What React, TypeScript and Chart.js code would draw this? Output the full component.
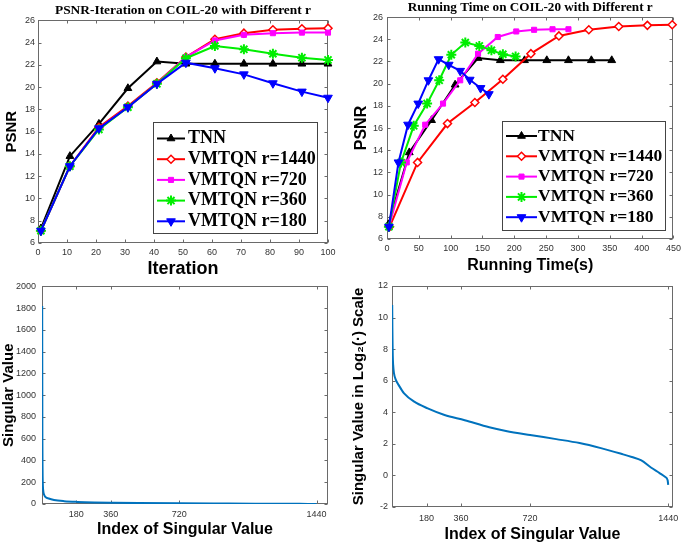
import React, { useEffect, useRef } from 'react';
import { Chart, registerables } from 'chart.js';
import { drawPoint } from 'chart.js/helpers';

Chart.register(...registerables);

// ---------- data ----------
const iterations = [1, 11, 21, 31, 41, 51, 61, 71, 81, 91, 100];
const psnrTNN = [7.3, 13.8, 16.7, 19.9, 22.3, 22.1, 22.1, 22.1, 22.1, 22.1, 22.1];
const psnrR1440 = [7.1, 12.9, 16.4, 18.3, 20.4, 22.7, 24.3, 24.85, 25.15, 25.25, 25.3];
const psnrR720 = [7.1, 12.9, 16.3, 18.2, 20.3, 22.7, 24.2, 24.7, 24.85, 24.9, 24.9];
const psnrR360 = [7.1, 12.9, 16.2, 18.2, 20.3, 22.6, 23.7, 23.4, 23.0, 22.65, 22.45];
const psnrR180 = [7.1, 12.9, 16.3, 18.2, 20.3, 22.2, 21.7, 21.15, 20.35, 19.6, 19.05];

const timeTNN = [2, 35, 70, 107, 143, 178, 216, 251, 285, 321, 353];
const timeR1440 = [4, 48, 95, 138, 182, 226, 270, 317, 364, 409, 448];
const timeR720 = [3, 31, 60, 88, 115, 143, 174, 203, 231, 260, 285];
const timeR360 = [3, 22, 42, 63, 82, 101, 123, 145, 164, 182, 202];
const timeR180 = [3, 18, 33, 49, 65, 81, 97, 115, 130, 147, 160];

const seriesLabels = ['TNN', 'VMTQN r=1440', 'VMTQN r=720', 'VMTQN r=360', 'VMTQN r=180'];

const svIndex = [1, 2, 3, 4, 6, 10, 20, 35, 63, 116, 186, 274, 379, 507, 720, 978, 1205, 1300, 1395, 1440];
const svValue = [1820, 620, 320, 200, 130, 90, 62, 50, 37, 26, 19, 14, 11, 8.5, 5.9, 4.1, 2.7, 2.0, 1.1, 0.7];

const logIndex = [1, 2, 3, 4, 6, 10, 20, 35, 63, 116, 186, 274, 379, 507, 594, 720, 856, 978, 1089, 1195, 1250, 1300, 1350, 1395, 1425, 1437, 1440];
const logValue = [10.8, 9.3, 8.3, 7.6, 7.0, 6.5, 6.05, 5.72, 5.2, 4.67, 4.25, 3.83, 3.5, 3.05, 2.82, 2.56, 2.3, 2.05, 1.73, 1.37, 1.17, 0.95, 0.5, 0.15, -0.1, -0.3, -0.6];

const indexTicks = [180, 360, 720, 1440];

// ---------- styles ----------
const SANS = '"Liberation Sans", Arial, Helvetica, sans-serif';
const SERIF = '"Liberation Serif", "Times New Roman", Times, serif';
const TICK_COLOR = '#333333';
const FRAME_COLOR = '#6a6a6a';

const seriesStyles = [
  { color: '#000000', style: 'triangle', rot: 0, fill: '#000000', radius: 4.5, bw: 1, order: 5 },
  { color: '#ff0000', style: 'rectRot', rot: 0, fill: '#ffffff', radius: 4, bw: 1.5, order: 4 },
  { color: '#ff00ff', style: 'rect', rot: 0, fill: '#ff00ff', radius: 3.6, bw: 1, order: 3 },
  { color: '#00ee00', style: 'star', rot: 0, fill: '#00ee00', radius: 5, bw: 2, order: 2 },
  { color: '#0000ff', style: 'triangle', rot: 180, fill: '#0000ff', radius: 5, bw: 1, order: 1 },
];

const psnrSeries = [psnrTNN, psnrR1440, psnrR720, psnrR360, psnrR180];
const timeSeries = [timeTNN, timeR1440, timeR720, timeR360, timeR180];

function makeDatasets(xsList: number[][], ysList: number[][]) {
  return seriesLabels.map((label, i) => {
    const s = seriesStyles[i];
    const xs = xsList[i];
    const ys = ysList[i];
    return {
      label,
      data: xs.map((x, j) => ({ x, y: ys[j] })),
      borderColor: s.color,
      backgroundColor: s.color,
      borderWidth: 2,
      pointStyle: s.style,
      pointRotation: s.rot,
      pointRadius: s.radius,
      pointBackgroundColor: s.fill,
      pointBorderColor: s.color,
      pointBorderWidth: s.bw,
      tension: 0,
      clip: false,
      order: s.order,
    };
  });
}

// ---------- plugins ----------
const framePlugin = {
  id: 'matFrame',
  beforeDatasetsDraw(chart: any) {
    const { ctx, chartArea: a, scales } = chart;
    const L = Math.round(a.left) + 0.5;
    const R = Math.round(a.right) - 0.5;
    const T = Math.round(a.top) + 0.5;
    const B = Math.round(a.bottom) - 0.5;
    ctx.save();
    ctx.strokeStyle = FRAME_COLOR;
    ctx.lineWidth = 1;
    ctx.strokeRect(L, T, R - L, B - T);
    const tl = 3;
    ctx.beginPath();
    for (const t of scales.x.ticks) {
      const px = Math.round(scales.x.getPixelForValue(t.value)) + 0.5;
      ctx.moveTo(px, B); ctx.lineTo(px, B - tl);
      ctx.moveTo(px, T); ctx.lineTo(px, T + tl);
    }
    for (const t of scales.y.ticks) {
      const py = Math.round(scales.y.getPixelForValue(t.value)) + 0.5;
      ctx.moveTo(L, py); ctx.lineTo(L + tl, py);
      ctx.moveTo(R, py); ctx.lineTo(R - tl, py);
    }
    ctx.stroke();
    ctx.restore();
  },
};

const legendPlugin = {
  id: 'boxLegend',
  afterDraw(chart: any, _args: any, opts: any) {
    if (!opts || !opts.show) return;
    const ctx = chart.ctx;
    ctx.save();
    ctx.fillStyle = '#ffffff';
    ctx.fillRect(opts.x, opts.y, opts.w, opts.h);
    ctx.strokeStyle = '#444444';
    ctx.lineWidth = 1;
    ctx.strokeRect(opts.x + 0.5, opts.y + 0.5, opts.w, opts.h);
    chart.data.datasets.forEach((ds: any, i: number) => {
      const cy = opts.row0 + i * opts.rowH;
      ctx.strokeStyle = ds.borderColor;
      ctx.lineWidth = 2;
      ctx.beginPath();
      ctx.moveTo(opts.lx0, cy);
      ctx.lineTo(opts.lx1, cy);
      ctx.stroke();
      ctx.fillStyle = ds.pointBackgroundColor;
      ctx.strokeStyle = ds.pointBorderColor;
      ctx.lineWidth = ds.pointBorderWidth;
      drawPoint(ctx, {
        pointStyle: ds.pointStyle,
        rotation: ds.pointRotation,
        radius: ds.pointRadius,
        borderWidth: ds.pointBorderWidth,
      } as any, (opts.lx0 + opts.lx1) / 2, cy);
      ctx.fillStyle = '#000000';
      ctx.font = `bold ${opts.fontSize}px ${SERIF}`;
      ctx.textBaseline = 'middle';
      ctx.textAlign = 'left';
      ctx.fillText(ds.label, opts.tx, cy);
    });
    ctx.restore();
  },
};

const plainNumber = (v: any) => String(v);

// ---------- scale helpers ----------
function xScale(o: any) {
  return {
    type: 'linear',
    min: o.min,
    max: o.max,
    ticks: {
      stepSize: o.step,
      font: { family: SANS, size: 9 },
      color: TICK_COLOR,
      padding: o.tickPad,
      maxRotation: 0,
      autoSkip: false,
      callback: plainNumber,
    },
    afterBuildTicks: o.ticksList
      ? (s: any) => { s.ticks = o.ticksList.map((v: number) => ({ value: v })); }
      : undefined,
    grid: { display: false, drawTicks: false },
    border: { display: false },
    title: {
      display: true,
      text: o.title,
      color: '#000000',
      font: { family: SANS, size: o.titleSize, weight: 'bold' },
      padding: { top: 0, bottom: o.titlePad },
    },
    afterFit: (s: any) => { s.height = o.height; },
  };
}

function yScale(o: any) {
  return {
    type: 'linear',
    min: o.min,
    max: o.max,
    ticks: {
      stepSize: o.step,
      font: { family: SANS, size: 9 },
      color: TICK_COLOR,
      padding: o.tickPad,
      autoSkip: false,
      callback: plainNumber,
    },
    grid: { display: false, drawTicks: false },
    border: { display: false },
    title: {
      display: true,
      text: o.title,
      color: '#000000',
      font: { family: SANS, size: o.titleSize, weight: 'bold' },
      padding: { top: o.titlePad, bottom: 0 },
    },
    afterFit: (s: any) => { s.width = o.width; },
  };
}

// ---------- configs ----------
function configIteration(): any {
  return {
    type: 'line',
    data: { datasets: makeDatasets(seriesLabels.map(() => iterations), psnrSeries) },
    options: {
      animation: false,
      responsive: false,
      layout: { padding: { top: 0, right: 14, left: 0, bottom: 0 } },
      scales: {
        x: xScale({ min: 0, max: 100, step: 10, tickPad: 4, title: 'Iteration', titleSize: 18, titlePad: 2, height: 39 }),
        y: yScale({ min: 6, max: 26, step: 2, tickPad: 3, title: 'PSNR', titleSize: 15, titlePad: 3, width: 38 }),
      },
      plugins: {
        legend: { display: false },
        tooltip: { enabled: false },
        title: {
          display: true,
          fullSize: false,
          text: 'PSNR-Iteration on COIL-20 with Different r',
          color: '#000000',
          font: { family: SERIF, size: 13.4, weight: 'bold' },
          padding: { top: 3, bottom: 1.3 },
        },
        boxLegend: { show: true, x: 153, y: 122, w: 164, h: 111, row0: 138.5, rowH: 20.7, lx0: 157, lx1: 185, tx: 188, fontSize: 18 },
      },
    },
    plugins: [framePlugin, legendPlugin],
  };
}

function configTime(): any {
  return {
    type: 'line',
    data: { datasets: makeDatasets(timeSeries, psnrSeries) },
    options: {
      animation: false,
      responsive: false,
      layout: { padding: { top: 0, right: 10, left: 0, bottom: 0 } },
      scales: {
        x: xScale({ min: 0, max: 450, step: 50, tickPad: 4, title: 'Running Time(s)', titleSize: 16, titlePad: 6.4, height: 43 }),
        y: yScale({ min: 6, max: 26, step: 2, tickPad: 4, title: 'PSNR', titleSize: 16, titlePad: 10, width: 45 }),
      },
      plugins: {
        legend: { display: false },
        tooltip: { enabled: false },
        title: {
          display: true,
          fullSize: false,
          text: 'Running Time on COIL-20 with Different r',
          color: '#000000',
          font: { family: SERIF, size: 13.2, weight: 'bold' },
          padding: { top: 0, bottom: 1.2 },
        },
        boxLegend: { show: true, x: 160, y: 121, w: 163, h: 109, row0: 136, rowH: 20.3, lx0: 164, lx1: 195, tx: 196, fontSize: 17.5 },
      },
    },
    plugins: [framePlugin, legendPlugin],
  };
}

function configSingular(): any {
  return {
    type: 'line',
    data: {
      datasets: [{
        label: 'Singular Value',
        data: svIndex.map((x, i) => ({ x, y: svValue[i] })),
        borderColor: '#0072BD',
        borderWidth: 2,
        pointRadius: 0,
        cubicInterpolationMode: 'monotone',
      }],
    },
    options: {
      animation: false,
      responsive: false,
      layout: { padding: { top: 10, right: 14, left: 0, bottom: 0 } },
      scales: {
        x: xScale({ min: 0, max: 1500, ticksList: indexTicks, tickPad: 5, title: 'Index of Singular Value', titleSize: 16, titlePad: 6.4, height: 42 }),
        y: yScale({ min: 0, max: 2000, step: 200, tickPad: 6, title: 'Singular Value', titleSize: 15, titlePad: 0, width: 42 }),
      },
      plugins: { legend: { display: false }, tooltip: { enabled: false } },
    },
    plugins: [framePlugin],
  };
}

function configLog(): any {
  return {
    type: 'line',
    data: {
      datasets: [{
        label: 'Log2 Singular Value',
        data: logIndex.map((x, i) => ({ x, y: logValue[i] })),
        borderColor: '#0072BD',
        borderWidth: 2,
        pointRadius: 0,
        cubicInterpolationMode: 'monotone',
      }],
    },
    options: {
      animation: false,
      responsive: false,
      layout: { padding: { top: 11, right: 12, left: 0, bottom: 0 } },
      scales: {
        x: xScale({ min: 0, max: 1465, ticksList: indexTicks, tickPad: 6, title: 'Index of Singular Value', titleSize: 16, titlePad: 1.4, height: 39 }),
        y: yScale({ min: -2, max: 12, step: 2, tickPad: 4, title: 'Singular Value in Log\u2082(\u00B7) Scale', titleSize: 15, titlePad: 8, width: 50 }),
      },
      plugins: { legend: { display: false }, tooltip: { enabled: false } },
    },
    plugins: [framePlugin],
  };
}

function Panel({ left, top, width, height, make }: { left: number; top: number; width: number; height: number; make: () => any }) {
  const ref = useRef<HTMLCanvasElement>(null);
  useEffect(() => {
    if (!ref.current) return;
    const chart = new Chart(ref.current, make());
    return () => chart.destroy();
  }, []);
  return (
    <canvas
      ref={ref}
      width={width}
      height={height}
      style={{ position: 'absolute', left, top, width, height }}
    />
  );
}

export default function App() {
  return (
    <div style={{ position: 'fixed', left: 0, top: 0, width: 685, height: 546, background: '#ffffff', overflow: 'hidden' }}>
      <Panel left={0} top={0} width={342} height={282} make={configIteration} />
      <Panel left={342} top={0} width={343} height={282} make={configTime} />
      <Panel left={0} top={275} width={342} height={271} make={configSingular} />
      <Panel left={342} top={275} width={343} height={271} make={configLog} />
    </div>
  );
}
